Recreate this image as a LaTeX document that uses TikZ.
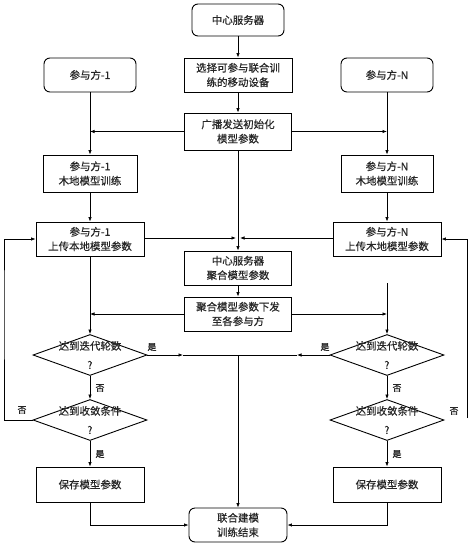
\documentclass[tikz,border=0pt]{standalone}
\usepackage{fontspec}
\setmainfont{Noto Sans CJK SC}[FakeBold=0.6]
\usetikzlibrary{arrows.meta,shapes.geometric}
\begin{document}
\begin{tikzpicture}[x=1bp,y=-1bp,
  every node/.style={font=\fontsize{10.5}{14.5}\selectfont, text=black!85},
  box/.style={draw, line width=0.9pt, align=center, inner sep=0pt, minimum width=107bp, minimum height=34bp},
  rbox/.style={box, rounded corners=6bp},
  dia/.style={draw, diamond, line width=0.9pt, inner sep=0pt, minimum width=114bp, minimum height=41bp},
  lab/.style={font=\fontsize{9}{10}\selectfont, inner sep=0pt},
  arr/.style={line width=0.7pt, -{Latex[length=4.5bp,width=3.5bp]}},
  ln/.style={line width=0.7pt}]
\useasboundingbox (0,0) rectangle (474,545);
% nodes
\node[rbox, minimum width=92bp, minimum height=32bp] (top) at (238,20) {中心服务器};
\node[box, minimum width=108bp] (sel) at (238,75) {选择可参与联合训\\练的移动设备};
\node[rbox, minimum width=92bp] (p1) at (90,75) {参与方-1};
\node[rbox, minimum width=92bp] (pN) at (387,75) {参与方-N};
\node[box, minimum height=37bp] (bc) at (238,131.5) {广播发送初始化\\模型参数};
\node[box, minimum width=94bp, minimum height=37bp] (t1) at (90,173.5) {参与方-1\\木地模型训练};
\node[box, minimum width=92bp, minimum height=37bp] (tN) at (387,173.5) {参与方-N\\木地模型训练};
\node[box, minimum width=108bp] (u1) at (90,239) {参与方-1\\上传本地模型参数};
\node[box, minimum width=108bp] (uN) at (387,239) {参与方-N\\上传木地模型参数};
\node[box] (agg) at (238,268) {中心服务器\\聚合模型参数};
\node[box] (dist) at (238,314) {聚合模型参数下发\\至各参与方};
\node[dia, label={[align=center, font=\fontsize{10.5}{19}\selectfont]center:达到迭代轮数\\?}] (d1) at (90,355) {};
\node[dia, label={[align=center, font=\fontsize{10.5}{19}\selectfont]center:达到迭代轮数\\?}] (dN) at (387,355) {};
\node[dia, label={[align=center, font=\fontsize{10.5}{19}\selectfont]center:达到收敛条件\\?}] (c1) at (90,420) {};
\node[dia, label={[align=center, font=\fontsize{10.5}{19}\selectfont]center:达到收敛条件\\?}] (cN) at (387,420) {};
\node[box, minimum width=108bp, minimum height=35bp] (s1) at (90,484.5) {保存模型参数};
\node[box, minimum width=108bp, minimum height=35bp] (sN) at (387,484.5) {保存模型参数};
\node[rbox, minimum width=98bp] (end) at (238,525) {联合建模\\训练结束};
% labels
\node[lab] (y1) at (152,347) {是};
\node[lab] (y2) at (325,347) {是};
\node[lab] (n1) at (100,388) {否};
\node[lab] (n2) at (397,388) {否};
\node[lab] (y3) at (100,454) {是};
\node[lab] (y4) at (397,454) {是};
\node[lab] (n3) at (22,410) {否};
\node[lab] (n4) at (454,411) {否};
% coordinates
\coordinate (bl) at (90,131.5);
\coordinate (br) at (387,131.5);
\coordinate (cm) at (238,238);
\coordinate (cml) at (236,238);
\coordinate (cmr) at (240,238);
\coordinate (dl) at (90,314);
\coordinate (dr) at (387,314);
\coordinate (rs) at (387,283);
\coordinate (ya) at (183,355);
\coordinate (yb) at (297,355);
\coordinate (ym) at (238,355);
\coordinate (lx) at (4,300);
\coordinate (rb) at (467,418);
% connectors
\draw[arr] (top) -- (sel);
\draw[arr] (sel) -- (bc);
\draw[arr] (p1) -- (t1);
\draw[arr] (pN) -- (tN);
\draw[arr] (bc.west) -- (bl);
\draw[arr] (bc.east) -- (br);
\draw[arr] (t1) -- (u1);
\draw[arr] (tN) -- (uN);
\draw[arr] (bc) -- (agg);
\draw[arr] (u1.east |- cm) -- (cml);
\draw[arr] (uN.west |- cm) -- (cmr);
\draw[arr] (agg) -- (dist);
\draw[arr] (dist.west) -- (dl);
\draw[arr] (dist.east) -- (dr);
\draw[arr] (u1) -- (d1);
\draw[arr] (rs) -- (dN);
\draw[arr] (d1.east) -- (ya);
\draw[ln] (ya) -- (yb);
\draw[arr] (dN.west) -- (yb);
\draw[arr] (ym) -- (end);
\draw[arr] (d1) -- (c1);
\draw[arr] (dN) -- (cN);
\draw[arr] (c1) -- (s1);
\draw[arr] (cN) -- (sN);
\draw[arr] (c1.west) -| (lx) |- (u1.west);
\draw[arr] (rb) |- (uN.east);
\draw[arr] (s1.south) |- (end.west);
\draw[arr] (sN.south) |- (end.east);
\end{tikzpicture}
\end{document}
